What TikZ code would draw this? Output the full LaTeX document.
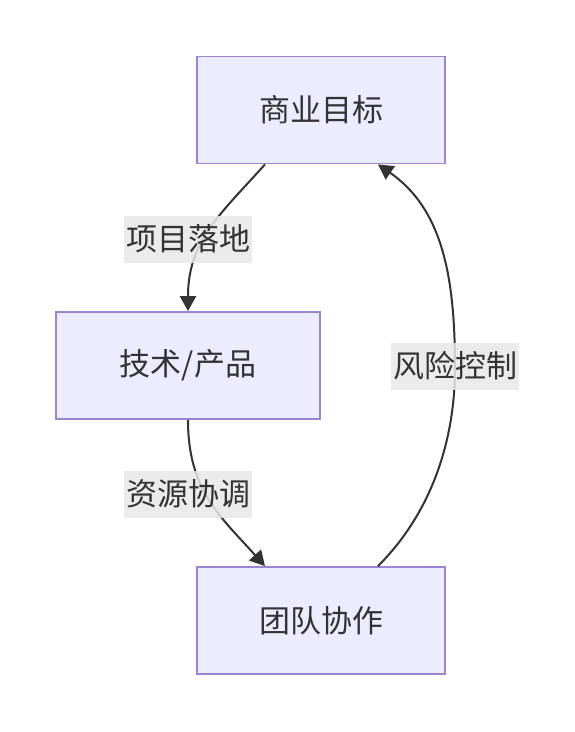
\documentclass[tikz,border=0pt]{standalone}
\usepackage{fontspec}
\setmainfont{Noto Sans CJK SC}
\usetikzlibrary{positioning, arrows.meta, calc}

\definecolor{boxfill}{HTML}{ECECFF}
\definecolor{boxline}{HTML}{9A85D2}
\definecolor{ink}{HTML}{333333}
\definecolor{lblgray}{HTML}{E8E8E8}

\begin{document}
\begin{tikzpicture}[x=1pt, y=-1pt, font=\fontsize{31}{35}\selectfont, text=ink,
    box/.style={draw=boxline, fill=boxfill, line width=1.8pt, minimum height=107pt, inner sep=0pt},
    lbl/.style={fill=lblgray, fill opacity=0.85, text opacity=1, minimum height=47pt, inner xsep=2pt, inner ysep=0pt},
    flow/.style={draw=ink, line width=2pt, -{Triangle[length=15pt, width=16pt]}}]
        \useasboundingbox (0,0) rectangle (574,732);

        \node[box, minimum width=248pt] (goal) at (321,110)   {商业目标};
        \node[box, minimum width=264pt] (tech) at (188,365.5) {技术/产品};
        \node[box, minimum width=248pt] (team) at (321,620.5) {团队协作};

        \coordinate (goalL) at ($(goal.south)+(-56,0)$);
        \coordinate (goalR) at ($(goal.south)+(57,0)$);
        \coordinate (teamL) at ($(team.north)+(-56,0)$);
        \coordinate (teamR) at ($(team.north)+(57,0)$);
        \coordinate (risk)  at (455,368);

        \draw[flow] (goalL) .. controls +(-45,50) and +(0,-70) .. (tech.north);
        \draw[flow] (tech.south) .. controls +(0,70) and +(-45,-50) .. (teamL);
        \draw[flow] (teamR) .. controls +(55,-55) and +(0,70) .. (risk)
          .. controls +(0,-90) and +(65,45) .. (goalR);

        \node[lbl] (land)  at (188,239) {项目落地};
        \node[lbl] (res)   at (188,494) {资源协调};
        \node[lbl] (ctrl)  at (455,366) {风险控制};

      \end{tikzpicture}
\end{document}
